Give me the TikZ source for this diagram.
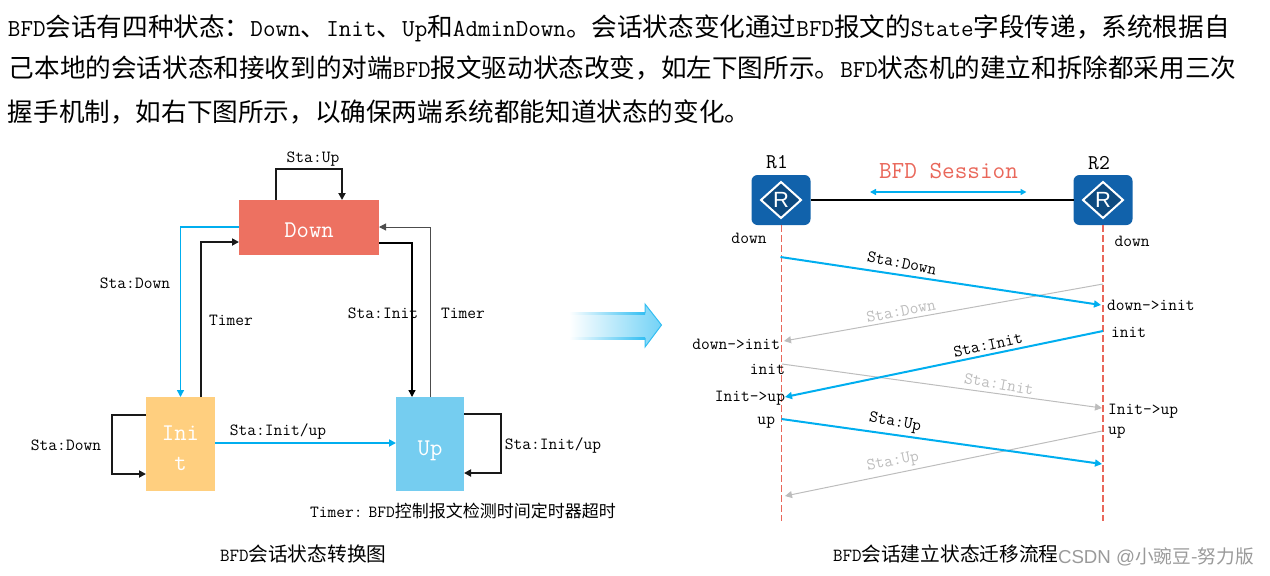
\documentclass[tikz,border=0pt]{standalone}
\usepackage{fontspec}
\usetikzlibrary{arrows.meta,shapes.geometric,shadings}
\newfontfamily\cjk{Noto Sans CJK SC}
\newfontfamily\lsans{Liberation Sans}
\newcommand{\zh}[1]{{\cjk #1}}
\newcommand{\zb}[1]{{\fontsize{25.6}{26}\selectfont\cjk #1}}
\newcommand{\zn}[1]{{\fontsize{17}{20}\selectfont\cjk #1}}
\newcommand{\zc}[1]{{\fontsize{19.7}{22}\selectfont\cjk #1}}
\newcommand{\lowr}[2]{\raisebox{-#1pt}[0pt][0pt]{#2}}
\definecolor{bblue}{HTML}{00AEEF}
\definecolor{bred}{HTML}{E9675A}
\definecolor{bgray}{HTML}{BDBDBD}
\definecolor{rblue}{HTML}{1162AB}
\definecolor{wm}{HTML}{9A9A9A}
\definecolor{boxred}{HTML}{ED7161}
\definecolor{boxyel}{HTML}{FFCF7F}
\definecolor{boxblu}{HTML}{75CDF0}
\tikzset{
  every node/.style={inner sep=0pt,outer sep=0pt},
  txt/.style={font=\fontsize{17}{20}\selectfont\ttfamily,text=black},
  capt/.style={font=\fontsize{18.5}{22}\selectfont\ttfamily,text=black,anchor=west},
  body/.style={font=\fontsize{24.4}{26}\selectfont\ttfamily,anchor=west,text=black},
  boxnode/.style={font=\fontsize{24}{30}\selectfont\ttfamily,text=white,align=center},
  tip/.style={-{Triangle[length=7pt,width=7pt]}},
  blk/.style={tip,line width=2pt,draw=black!90},
  blu/.style={tip,line width=2pt,draw=bblue},
  gry/.style={tip,line width=1pt,draw=bgray},
  ghost/.style={txt,text=bgray},
  life/.style={draw=bred,dashed,dash pattern=on 7pt off 3pt},
  router/.style={fill=rblue,rounded corners=6pt,minimum width=59pt,minimum height=50pt},
  rdiam/.style={diamond,draw=white,line width=2pt,fill=rblue!75!black,minimum width=40pt,minimum height=36pt,text=white,font=\fontsize{22}{22}\selectfont\lsans},
}
\begin{document}
\begin{tikzpicture}[x=1pt,y=-1pt]
\useasboundingbox (0,0) rectangle (1270,576);
% heading
\node[body] (l1) at (8,28) {BFD\zb{会话有四种状态^^^^ff1a}Down\zb{、}Init\zb{、}Up\zb{和}AdminDown\zb{。会话状态变化通过}BFD\zb{报文的}State\zb{字段传递^^^^ff0c系统根据自}};
\node[body] (l2) at (9,68) {\zb{己本地的会话状态和接收到的对端}BFD\zb{报文驱动状态改变^^^^ff0c如左下图所示。}BFD\zb{状态机的建立和拆除都采用三次}};
\node[body] (l3) at (8,112) {\zb{握手机制^^^^ff0c如右下图所示^^^^ff0c以确保两端系统都能知道状态的变化。}};
% state boxes
\node[boxnode,fill=boxred,minimum width=140pt,minimum height=55pt] (down) at (309,227.5) {\lowr{9.5}{Down}};
\node[boxnode,fill=boxyel,minimum width=69pt,minimum height=94pt] (init) at (180.5,444) {\lowr{11}{Ini}\\\lowr{11}{t}};
\node[boxnode,fill=boxblu,minimum width=68pt,minimum height=94pt] (up) at (430,444) {\lowr{11}{Up}};
% anchor coordinates
\coordinate (a1) at (276,200); \coordinate (a2) at (276,169); \coordinate (a3) at (342,169); \coordinate (a4) at (342,200);
\coordinate (b1) at (239,227); \coordinate (b2) at (180.5,227); \coordinate (b3) at (180.5,397);
\coordinate (c1) at (201,397); \coordinate (c2) at (201,242); \coordinate (c3) at (239,242);
\coordinate (d1) at (379,243); \coordinate (d2) at (412,243); \coordinate (d3) at (412,397);
\coordinate (e1) at (430,397); \coordinate (e2) at (430,227); \coordinate (e3) at (379,227);
\coordinate (f1) at (215,443); \coordinate (f2) at (396,443);
\coordinate (g1) at (146,415); \coordinate (g2) at (112,415); \coordinate (g3) at (112,474); \coordinate (g4) at (146,474);
\coordinate (h1) at (464,414); \coordinate (h2) at (501,414); \coordinate (h3) at (501,473); \coordinate (h4) at (464,473);
\draw[blk] (a1) -- (a2) -- (a3) -- (a4);
\draw[tip,line width=1.5pt,draw=bblue] (b1) -- (b2) -- (b3);
\draw[blk] (c1) -- (c2) -- (c3);
\draw[tip,line width=1.3pt,draw=black] (d1) -- (d2) -- (d3);
\draw[tip,line width=1pt,draw=black!70] (e1) -- (e2) -- (e3);
\draw[blu] (f1) -- (f2);
\draw[blk] (g1) -- (g2) -- (g3) -- (g4);
\draw[blk] (h1) -- (h2) -- (h3) -- (h4);
% state labels
\node[txt] (t1) at (313,159) {Sta:Up};
\node[txt] (t2) at (135,283) {Sta:Down};
\node[txt] (t3) at (231,320) {Timer};
\node[txt] (t4) at (383,313) {Sta:Init};
\node[txt] (t5) at (463,313) {Timer};
\node[txt] (t6) at (278,431) {Sta:Init/up};
\node[txt] (t7) at (66,445) {Sta:Down};
\node[txt] (t8) at (553,445) {Sta:Init/up};
\node[txt,anchor=west] (t9) at (310,511) {Timer:\hspace{6pt}BFD\zn{控制报文检测时间定时器超时}};
\node[capt] (cap1) at (220,554) {BFD\zc{会话状态转换图}};
% big arrow
\shade[left color=white,right color=bblue!55] (569,313) -- (645,313) -- (645,304) -- (661.5,325) -- (645,347) -- (645,338) -- (569,338) -- cycle;
\shade[left color=white,right color=bblue!80] (569,312) rectangle (645,314);
\shade[left color=white,right color=bblue!80] (569,337) rectangle (645,339);
\draw[bblue!80,line width=1pt] (645,313) -- (645,304) -- (661.5,325) -- (645,347) -- (645,338);
% routers
\node[router] (r1) at (781,200) {};
\node[router] (r2) at (1103,200) {};
\node[rdiam] (d1n) at (781,200) {R};
\node[rdiam] (d2n) at (1103,200) {R};
\draw[black,line width=2pt] (r1) -- (r2);
\node[txt,font=\fontsize{21}{22}\selectfont\ttfamily] (r1t) at (777,162) {R1};
\node[txt,font=\fontsize{21}{22}\selectfont\ttfamily] (r2t) at (1099,163) {R2};
\node[txt,font=\fontsize{24.5}{26}\selectfont\ttfamily,text=bred] (sess) at (948.5,171) {BFD Session};
\coordinate (s1) at (870,192); \coordinate (s2) at (1026.5,192);
\draw[{Triangle[length=6pt,width=6pt]}-{Triangle[length=6pt,width=6pt]},line width=1.5pt,draw=bblue] (s1) -- (s2);
% lifelines
\coordinate (e1r) at (781,521); \coordinate (e2r) at (1103,521);
\draw[life,line width=1pt] (r1.south) -- (e1r);
\draw[life,line width=2pt] (r2.south) -- (e2r);
% messages
\coordinate (m1a) at (780.5,257); \coordinate (m1b) at (1101,305);
\coordinate (m2a) at (1103,284); \coordinate (m2b) at (784,341);
\coordinate (m3a) at (1103,331); \coordinate (m3b) at (785,397);
\coordinate (m4a) at (782,364); \coordinate (m4b) at (1102,408);
\coordinate (m5a) at (781.5,419); \coordinate (m5b) at (1102,464);
\coordinate (m6a) at (1102,431); \coordinate (m6b) at (785,496);
\draw[gry] (m2a) -- (m2b);
\draw[gry] (m4a) -- (m4b);
\draw[gry] (m6a) -- (m6b);
\draw[blu] (m1a) -- (m1b);
\draw[blu] (m3a) -- (m3b);
\draw[blu] (m5a) -- (m5b);
\node[txt,rotate=-11] (n1) at (902,263) {Sta:Down};
\node[ghost,rotate=11] (n2) at (901,311) {Sta:Down};
\node[txt,rotate=12] (n3) at (988,345) {Sta:Init};
\node[ghost,rotate=-10] (n4) at (999,384) {Sta:Init};
\node[txt,rotate=-10] (n5) at (895,423) {Sta:Up};
\node[ghost,rotate=11] (n6) at (893,462) {Sta:Up};
% state notes
\node[txt] (k1) at (749,238) {down};
\node[txt] (k2) at (1132,241) {down};
\node[txt,anchor=west] (k3) at (1107,305) {down->init};
\node[txt,anchor=west] (k4) at (1111,332) {init};
\node[txt,anchor=east] (k5) at (780,344) {down->init};
\node[txt,anchor=east] (k6) at (785,369) {init};
\node[txt,anchor=east] (k7) at (785,398) {Init->up};
\node[txt,anchor=west] (k8) at (1108,411) {Init->up};
\node[txt,anchor=east] (k9) at (775,423) {up};
\node[txt,anchor=west] (k10) at (1108,433) {up};
\node[capt] (cap2) at (833,554) {BFD\zc{会话建立状态迁移流程}};
\node[anchor=west,text=wm,font=\fontsize{18.7}{22}\selectfont\lsans] (wmk) at (1058,557) {CSDN @\zh{小豌豆-努力版}};
\end{tikzpicture}
\end{document}
